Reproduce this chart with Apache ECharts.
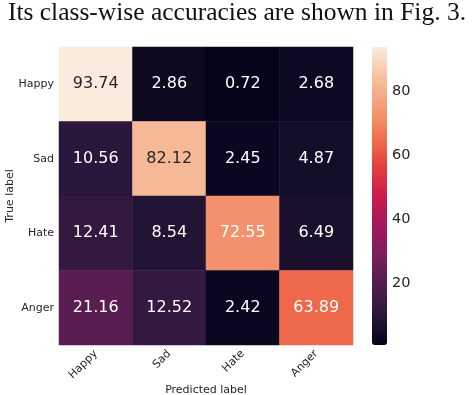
<!DOCTYPE html>
<html><head><meta charset="utf-8">
<script src="https://cdn.jsdelivr.net/npm/echarts@6/dist/echarts.min.js"></script>
<style>html,body{margin:0;padding:0;background:#fff}#c{width:474px;height:395px}</style>
</head><body><div id="c"></div>
<script>
const captionText = 'Its class-wise accuracies are shown in Fig. 3.';
const predictedLabels = ['Happy', 'Sad', 'Hate', 'Anger'];
const trueLabels = ['Happy', 'Sad', 'Hate', 'Anger'];
const rowHappy = [93.74, 2.86, 0.72, 2.68];
const rowSad = [10.56, 82.12, 2.45, 4.87];
const rowHate = [12.41, 8.54, 72.55, 6.49];
const rowAnger = [21.16, 12.52, 2.42, 63.89];
const colorbarTicks = [20, 40, 60, 80];

const rows = [rowHappy, rowSad, rowHate, rowAnger];
const allVals = rows.flat();
const vmin = Math.min(...allVals), vmax = Math.max(...allVals);
const rocket = ['#03051A','#28173A','#521C4F','#7A1F5C','#A3195B','#CB1B4F','#E4403F','#F17350','#F49D77','#F6C2A2','#FAEBDD'];

const data = [];
rows.forEach((r, yi) => r.forEach((v, xi) => {
  data.push({value: [xi, yi, v], label: {color: v > 75 ? '#262626' : '#ffffff'}});
}));

const chart = echarts.init(document.getElementById('c'));
const font = 'DejaVu Sans';
chart.setOption({
  animation: false,
  textStyle: {fontFamily: font},
  title: {text: captionText, left: 'center', top: 0, padding: 0,
    textStyle: {fontFamily: 'Liberation Serif', fontWeight: 'normal', fontSize: 25.5, color: '#111'}},
  grid: [
    {left: 59, top: 47, width: 294, height: 298, containLabel: false, outerBoundsMode: 'none'},
    {left: 372, top: 47, width: 15, height: 298, containLabel: false, outerBoundsMode: 'none'}
  ],
  xAxis: [
    {type: 'category', data: predictedLabels, gridIndex: 0,
      axisLine: {show: false}, axisTick: {show: false}, splitLine: {show: false},
      axisLabel: {rotate: 45, margin: 7, fontSize: 11, color: '#262626', fontFamily: font},
      name: 'Predicted label', nameLocation: 'middle', nameGap: 40, nameMoveOverlap: false,
      nameTextStyle: {fontSize: 11, color: '#262626', fontFamily: font}},
    {type: 'value', gridIndex: 1, show: false, min: 0, max: 1}
  ],
  yAxis: [
    {type: 'category', data: trueLabels, inverse: true, gridIndex: 0,
      axisLine: {show: false}, axisTick: {show: false}, splitLine: {show: false},
      axisLabel: {margin: 5, fontSize: 11, color: '#262626', fontFamily: font},
      name: 'True label', nameLocation: 'middle', nameGap: 43, nameRotate: 90, nameMoveOverlap: false,
      nameTextStyle: {fontSize: 11, color: '#262626', fontFamily: font}},
    {type: 'value', gridIndex: 1, position: 'right', min: vmin, max: vmax,
      axisLine: {show: false}, splitLine: {show: false},
      axisTick: {show: true, length: 4, lineStyle: {color: '#333'}, customValues: colorbarTicks},
      axisLabel: {margin: 5, fontSize: 14.5, color: '#262626', fontFamily: font, customValues: colorbarTicks}}
  ],
  visualMap: {
    type: 'continuous', min: vmin, max: vmax, seriesIndex: 0,
    left: 372, top: 47, itemWidth: 15, itemHeight: 298, padding: 0,
    calculable: false, text: null, showLabel: false, hoverLink: false,
    inRange: {color: rocket}
  },
  series: [{
    type: 'heatmap', xAxisIndex: 0, yAxisIndex: 0, data: data,
    label: {show: true, fontSize: 16, fontFamily: font,
      formatter: p => p.value[2].toFixed(2)},
    itemStyle: {borderWidth: 0}
  }]
});
</script></body></html>
